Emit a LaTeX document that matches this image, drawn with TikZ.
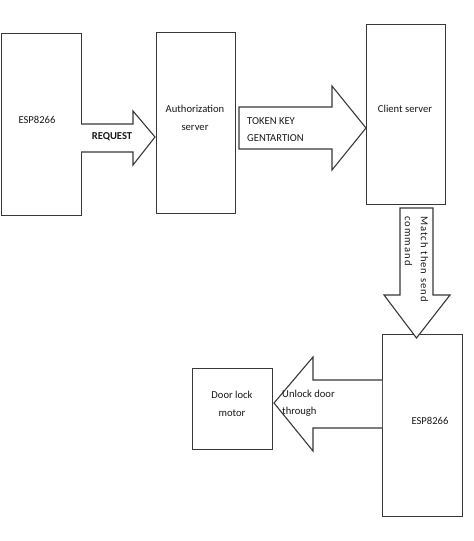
\documentclass[tikz,border=0pt]{standalone}
\usepackage{fontspec}
\setmainfont{Carlito}
\newfontfamily\spacedfont[LetterSpace=10]{Carlito}
\begin{document}
\begin{tikzpicture}[x=1pt,y=-1pt,
  box/.style={draw=black!78, line width=1.3pt, fill=white, inner sep=0pt, anchor=north west},
  arr/.style={draw=black!78, line width=1.1pt, fill=white, line join=miter},
  lbl/.style={font=\fontsize{10.6}{17.5}\selectfont, text=black!90, inner sep=0pt, align=center}]
\useasboundingbox (0,0) rectangle (474,541);
% boxes
\node[box, minimum width=80pt, minimum height=182pt] (esp1) at (1,33) {};
\node[box, minimum width=79pt, minimum height=181pt] (auth) at (156,32) {};
\node[box, minimum width=79pt, minimum height=180pt] (client) at (366,24) {};
\node[box, minimum width=80pt, minimum height=182pt] (esp2) at (382,334) {};
\node[box, minimum width=80pt, minimum height=81pt] (door) at (192,368) {};
% box texts
\node[lbl] (t1) at (37,120) {ESP8266};
\node[lbl] (t2) at (195,118) {Authorization\\server};
\node[lbl] (t3) at (405,109) {Client server};
\node[lbl] (t4) at (430,421) {ESP8266};
\node[lbl] (t5) at (232,404) {Door lock\\motor};
% arrows
\draw[arr] (81,124) -- (133,124) -- (133,111) -- (155,137) -- (133,165) -- (133,152) -- (81,152);
\draw[arr] (239,107) -- (332,107) -- (332,86) -- (366,128) -- (332,170) -- (332,149) -- (239,149) -- cycle;
\draw[arr] (400,208) -- (400,295) -- (384,295) -- (416.5,338) -- (450,295) -- (433,295) -- (433,208) -- cycle;
\draw[arr] (382,380) -- (313,380) -- (313,357) -- (274,403) -- (313,451) -- (313,428) -- (382,428);
% arrow labels
\node[lbl, font=\fontsize{10.6}{17.5}\selectfont\bfseries] (a1) at (112,137) {REQUEST};
\node[lbl, anchor=west, align=left] (a2) at (247,129.5) {TOKEN KEY\\GENTARTION};
\node[lbl, anchor=north west, align=left, rotate=-90, font=\spacedfont\fontsize{10.6}{16}\selectfont] (a3) at (428.5,216) {Match then send\\command};
\node[lbl, anchor=west, align=left] (a4) at (282,403) {Unlock door\\through};
\end{tikzpicture}
\end{document}
